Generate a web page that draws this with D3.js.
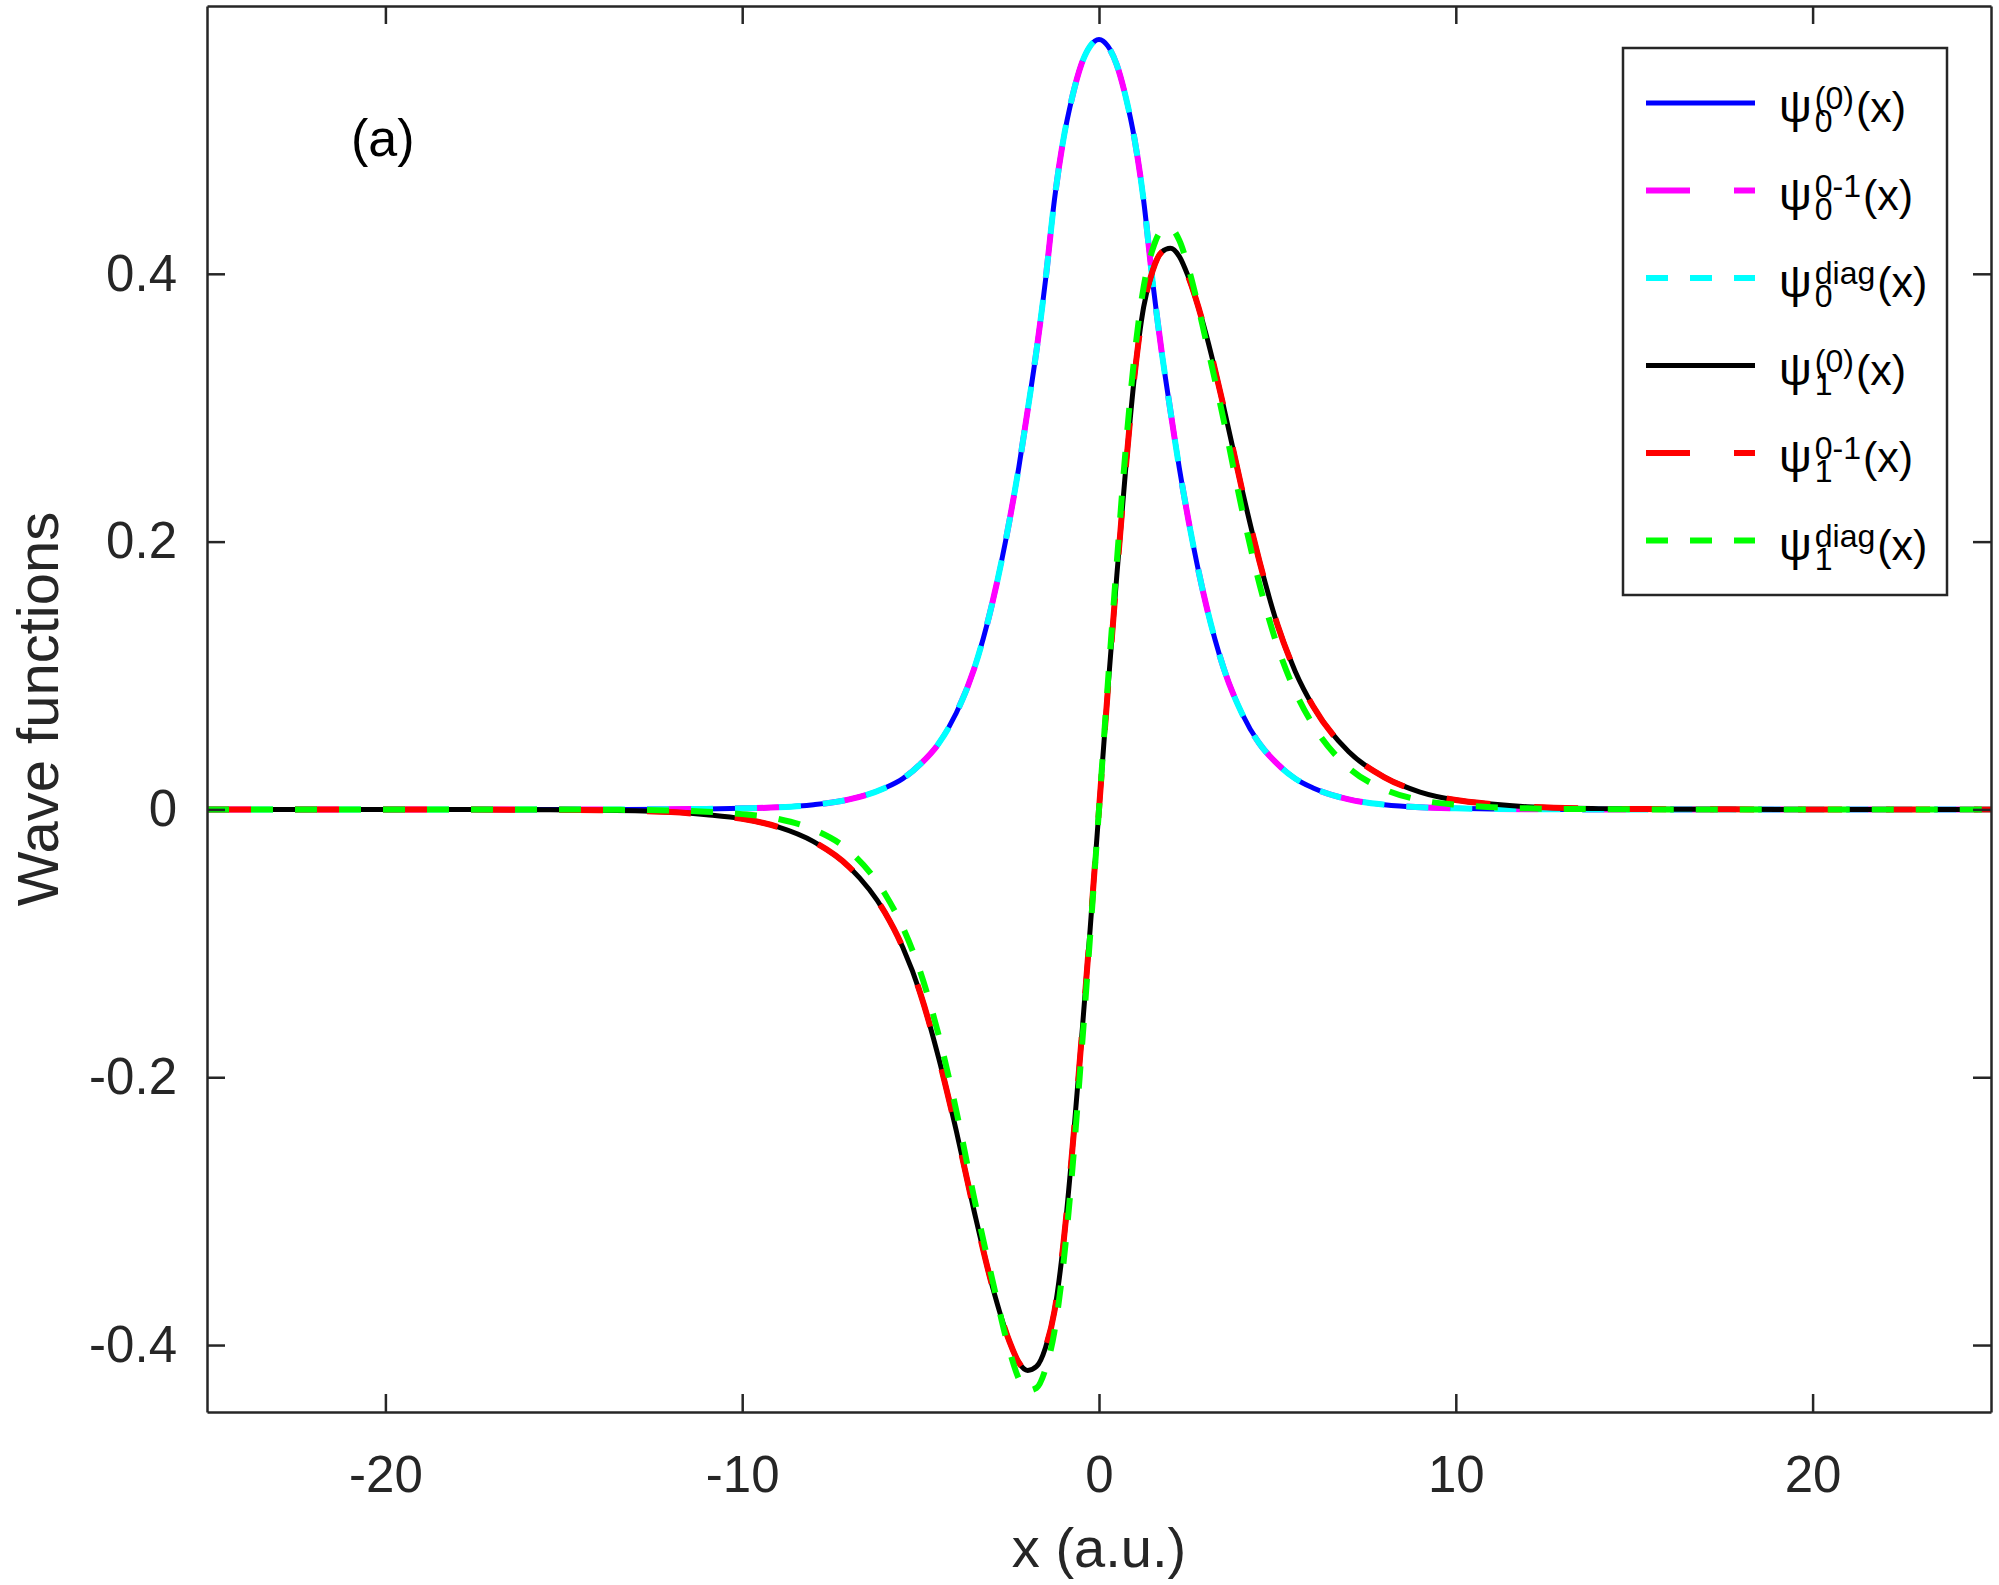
<!DOCTYPE html>
<html>
<head>
<meta charset="utf-8">
<script src="https://cdn.jsdelivr.net/npm/d3@7"></script>
<style>
body { margin: 0; background: #fff; }
svg { display: block; font-family: "Liberation Sans", Arial, Helvetica, sans-serif; }
</style>
</head>
<body>
<svg id="chart" width="1999" height="1585"></svg>
<script>
// grid of x positions (a.u.) the values below were read at
var xs = [-25, -20, -16, -14, -12, -11, -10, -9, -8, -7, -6, -5.5, -5, -4.5, -4, -3.5, -3, -2.5, -2.25, -2,
          -1.75, -1.5, -1.25, -1, -0.75, -0.5, -0.25, 0, 0.25, 0.5, 0.75, 1, 1.25, 1.5, 1.75, 2,
          2.25, 2.5, 3, 3.5, 4, 4.5, 5, 5.5, 6, 7, 8, 9, 10, 11, 12, 14, 16, 20, 25];

// ground state (exact, 0-1 and diag curves lie on top of each other)
var psi0 = [0, 0, 0, 0, 0.0002, 0.0004, 0.0008, 0.0016, 0.0035, 0.0075, 0.016, 0.023, 0.034, 0.049, 0.072, 0.105, 0.153, 0.217, 0.255, 0.298,
            0.343, 0.395, 0.455, 0.500, 0.532, 0.556, 0.570, 0.575, 0.570, 0.556, 0.532, 0.500, 0.455, 0.395, 0.343, 0.298,
            0.255, 0.217, 0.153, 0.105, 0.072, 0.049, 0.034, 0.023, 0.016, 0.0075, 0.0035, 0.0016, 0.0008, 0.0004, 0.0002, 0, 0, 0, 0];

// first excited state, exact and 0-1
var psi1 = [0, 0, -0.0002, -0.0006, -0.002, -0.004, -0.007, -0.013, -0.024, -0.043, -0.077, -0.103, -0.138, -0.185, -0.240, -0.300, -0.355, -0.398, -0.413, -0.419,
            -0.416, -0.402, -0.375, -0.325, -0.255, -0.175, -0.090, 0, 0.090, 0.175, 0.255, 0.325, 0.375, 0.402, 0.416, 0.419,
            0.413, 0.398, 0.355, 0.300, 0.240, 0.185, 0.138, 0.103, 0.077, 0.043, 0.024, 0.013, 0.007, 0.004, 0.002, 0.0006, 0.0002, 0, 0];

// first excited state, diagonal approximation
var psi1Diag = [0, 0, 0, -0.0002, -0.0008, -0.0017, -0.0035, -0.007, -0.015, -0.031, -0.063, -0.088, -0.122, -0.168, -0.225, -0.290, -0.350, -0.405, -0.425, -0.434,
                -0.432, -0.418, -0.390, -0.340, -0.270, -0.185, -0.095, 0, 0.095, 0.185, 0.270, 0.340, 0.390, 0.418, 0.432, 0.434,
                0.425, 0.405, 0.350, 0.290, 0.225, 0.168, 0.122, 0.088, 0.063, 0.031, 0.015, 0.007, 0.0035, 0.0017, 0.0008, 0.0002, 0, 0, 0];

var xTicks = [-20, -10, 0, 10, 20];
var yTicks = [-0.4, -0.2, 0, 0.2, 0.4];
var xTickLabels = ["-20", "-10", "0", "10", "20"];
var yTickLabels = ["-0.4", "-0.2", "0", "0.2", "0.4"];

var legendSub = ["0", "0", "0", "1", "1", "1"];
var legendSup = ["(0)", "0-1", "diag", "(0)", "0-1", "diag"];

var series = [
    { values: psi0,     color: "#0000ff", width: 5, dash: null },
    { values: psi0,     color: "#ff00ff", width: 6, dash: "44,44" },
    { values: psi0,     color: "#00ffff", width: 6, dash: "22,22" },
    { values: psi1,     color: "#000000", width: 5, dash: null },
    { values: psi1,     color: "#ff0000", width: 6, dash: "44,44" },
    { values: psi1Diag, color: "#00ff00", width: 6, dash: "22,22" }
];

var axisColor = "#262626";

var svg = d3.select("#chart"),
    margin = { top: 6, right: 8, bottom: 173, left: 207 },
    width = +svg.attr("width") - margin.left - margin.right,
    height = +svg.attr("height") - margin.top - margin.bottom,
    g = svg.append("g").attr("transform", "translate(" + margin.left + "," + margin.top + ")");

var x = d3.scaleLinear().domain([-25, 25]).range([0, width]);
var y = d3.scaleLinear().domain([-0.45, 0.6]).range([height, 0]);

g.append("clipPath").attr("id", "plot-clip")
    .append("rect").attr("width", width).attr("height", height);

var line = d3.line()
    .curve(d3.curveMonotoneX)
    .x(function(d, i) { return x(xs[i]); })
    .y(function(d) { return y(d); });

var curves = g.append("g").attr("clip-path", "url(#plot-clip)");
series.forEach(function(s) {
    curves.append("path")
        .attr("d", line(s.values))
        .attr("fill", "none")
        .attr("stroke", s.color)
        .attr("stroke-width", s.width)
        .attr("stroke-dasharray", s.dash)
        .attr("stroke-linejoin", "round");
});

// axes, ticks pointing inwards on all four sides
function styleAxis(sel) {
    sel.attr("font-family", null);
    sel.selectAll("path.domain").attr("stroke", axisColor).attr("stroke-width", 2.5);
    sel.selectAll(".tick line").attr("stroke", axisColor).attr("stroke-width", 2.5);
    sel.selectAll(".tick text").attr("fill", axisColor).style("font-size", "51px");
}

g.append("g")
    .attr("transform", "translate(0," + height + ")")
    .call(d3.axisBottom(x).tickValues(xTicks).tickSize(-18).tickSizeOuter(0).tickPadding(44)
        .tickFormat(function(d, i) { return xTickLabels[i]; }))
    .call(styleAxis);

g.append("g")
    .call(d3.axisTop(x).tickValues(xTicks).tickSize(-18).tickSizeOuter(0).tickFormat(""))
    .call(styleAxis);

g.append("g")
    .call(d3.axisLeft(y).tickValues(yTicks).tickSize(-18).tickSizeOuter(0).tickPadding(30)
        .tickFormat(function(d, i) { return yTickLabels[i]; }))
    .call(styleAxis);

g.append("g")
    .attr("transform", "translate(" + width + ",0)")
    .call(d3.axisRight(y).tickValues(yTicks).tickSize(-18).tickSizeOuter(0).tickFormat(""))
    .call(styleAxis);

// axis titles
svg.append("text")
    .attr("x", margin.left + width / 2)
    .attr("y", 1567)
    .attr("text-anchor", "middle")
    .attr("fill", axisColor)
    .style("font-size", "56px")
    .text("x (a.u.)");

svg.append("text")
    .attr("transform", "translate(58," + (margin.top + height / 2) + ") rotate(-90)")
    .attr("text-anchor", "middle")
    .attr("fill", axisColor)
    .style("font-size", "58px")
    .text("Wave functions");

svg.append("text")
    .attr("x", 351)
    .attr("y", 156)
    .attr("fill", "#000")
    .style("font-size", "52px")
    .text("(a)");

// legend
var lg = svg.append("g");
lg.append("rect")
    .attr("x", 1623).attr("y", 48)
    .attr("width", 324).attr("height", 547)
    .attr("fill", "#fff")
    .attr("stroke", axisColor)
    .attr("stroke-width", 2.5);

function textWidth(str, size) {
    var t = lg.append("text").style("font-size", size + "px").text(str);
    var w = t.node().getComputedTextLength();
    t.remove();
    return w;
}

var psiSize = 46, mainSize = 43, scriptSize = 32, textX = 1779;
series.forEach(function(s, i) {
    var ly = 103 + i * 87.5;
    lg.append("line")
        .attr("x1", 1646).attr("x2", 1755)
        .attr("y1", ly).attr("y2", ly)
        .attr("stroke", s.color)
        .attr("stroke-width", s.width)
        .attr("stroke-dasharray", s.dash);

    var x0 = textX + textWidth("\u03c8", psiSize) + 3;
    var w = Math.max(textWidth(legendSub[i], scriptSize), textWidth(legendSup[i], scriptSize));

    var t = lg.append("text")
        .attr("x", textX).attr("y", ly + 19)
        .attr("fill", "#000");
    t.append("tspan").style("font-size", psiSize + "px").text("\u03c8");
    t.append("tspan").attr("x", x0).attr("y", ly + 29)
        .style("font-size", scriptSize + "px").text(legendSub[i]);
    t.append("tspan").attr("x", x0).attr("y", ly + 6)
        .style("font-size", scriptSize + "px").text(legendSup[i]);
    t.append("tspan").attr("x", x0 + w + 2).attr("y", ly + 19)
        .style("font-size", mainSize + "px").text("(x)");
});
</script>
</body>
</html>
